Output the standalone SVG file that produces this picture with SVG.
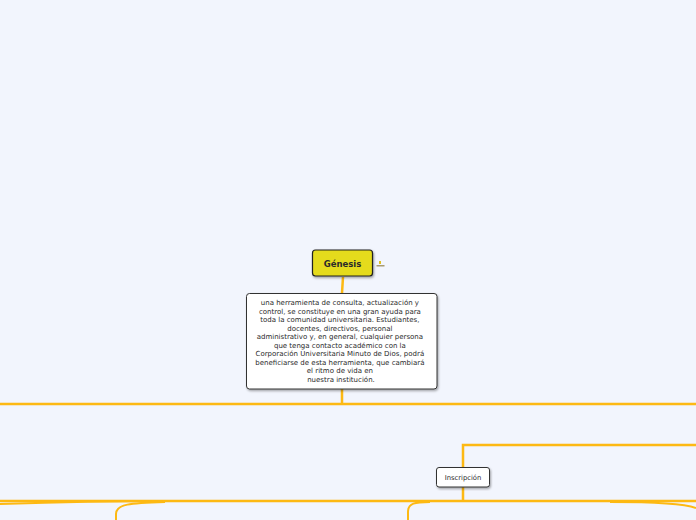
<svg xmlns="http://www.w3.org/2000/svg" width="696" height="520" viewBox="0 0 696 520">
<defs>
<style>
.c{fill:none;stroke:#fdb913;stroke-width:2.5}
.t{font-family:"DejaVu Sans",Verdana,sans-serif;fill:#2a2a2a;text-anchor:middle}
.box{fill:#fff;stroke:#333;stroke-width:1}
</style>
<filter id="sh" x="-10%" y="-10%" width="130%" height="130%"><feDropShadow dx="1" dy="1.5" stdDeviation="0.8" flood-color="#000" flood-opacity="0.35"/></filter>
</defs>
<rect width="696" height="520" fill="#f2f5fd"/>
<g id="connectors">
<path class="c" d="M343,277 L342,293"/>
<path class="c" d="M342,389 V404 M0,404 H696"/>
<path class="c" d="M463,487 V501 M0,501 H696"/>
<path class="c" d="M463,467 V445 H696"/>
<path class="c" style="stroke-width:2" d="M0,504 C60,502 120,501 170,501"/>
<path class="c" style="stroke-width:2" d="M116,520 V514 C116,504 130,503 165,502"/>
<path class="c" style="stroke-width:2" d="M408,520 V512 C408,503 415,502 430,502"/>
<path class="c" style="stroke-width:2" d="M610,502 C660,502 685,504 696,508"/>
</g>
<g id="genesis">
<rect x="312.5" y="250" width="60" height="26" rx="3" fill="#e5db1d" stroke="#222" stroke-width="1.2" filter="url(#sh)"/>
<text class="t" x="342.5" y="267" font-size="8.5" font-weight="bold" fill="#000">Génesis</text>
<g id="icon"><rect x="379" y="261" width="2" height="3" fill="#e0c020"/><rect x="376.5" y="265" width="8" height="1.5" fill="#a89a70"/></g>
</g>
<g id="descripcion">
<rect x="246.5" y="293.5" width="190.5" height="95.5" rx="3" class="box" filter="url(#sh)"/>
<text class="t" font-size="7">
<tspan x="341" y="305">una herramienta de consulta, actualización y</tspan>
<tspan x="341" y="313.5">control, se constituye en una gran ayuda para</tspan>
<tspan x="341" y="322">toda la comunidad universitaria. Estudiantes,</tspan>
<tspan x="341" y="330.5">docentes, directivos, personal</tspan>
<tspan x="341" y="339">administrativo y, en general, cualquier persona</tspan>
<tspan x="341" y="347.5">que tenga contacto académico con la</tspan>
<tspan x="341" y="356">Corporación Universitaria Minuto de Dios, podrá</tspan>
<tspan x="341" y="364.5">beneficiarse de esta herramienta, que cambiará</tspan>
<tspan x="341" y="373">el ritmo de vida en</tspan>
<tspan x="341" y="381.5">nuestra institución.</tspan>
</text>
</g>
<g id="inscripcion">
<rect x="436.5" y="467.5" width="53" height="19.5" rx="2.5" class="box" filter="url(#sh)"/>
<text class="t" x="463" y="480" font-size="6.8">Inscripción</text>
</g>
</svg>
